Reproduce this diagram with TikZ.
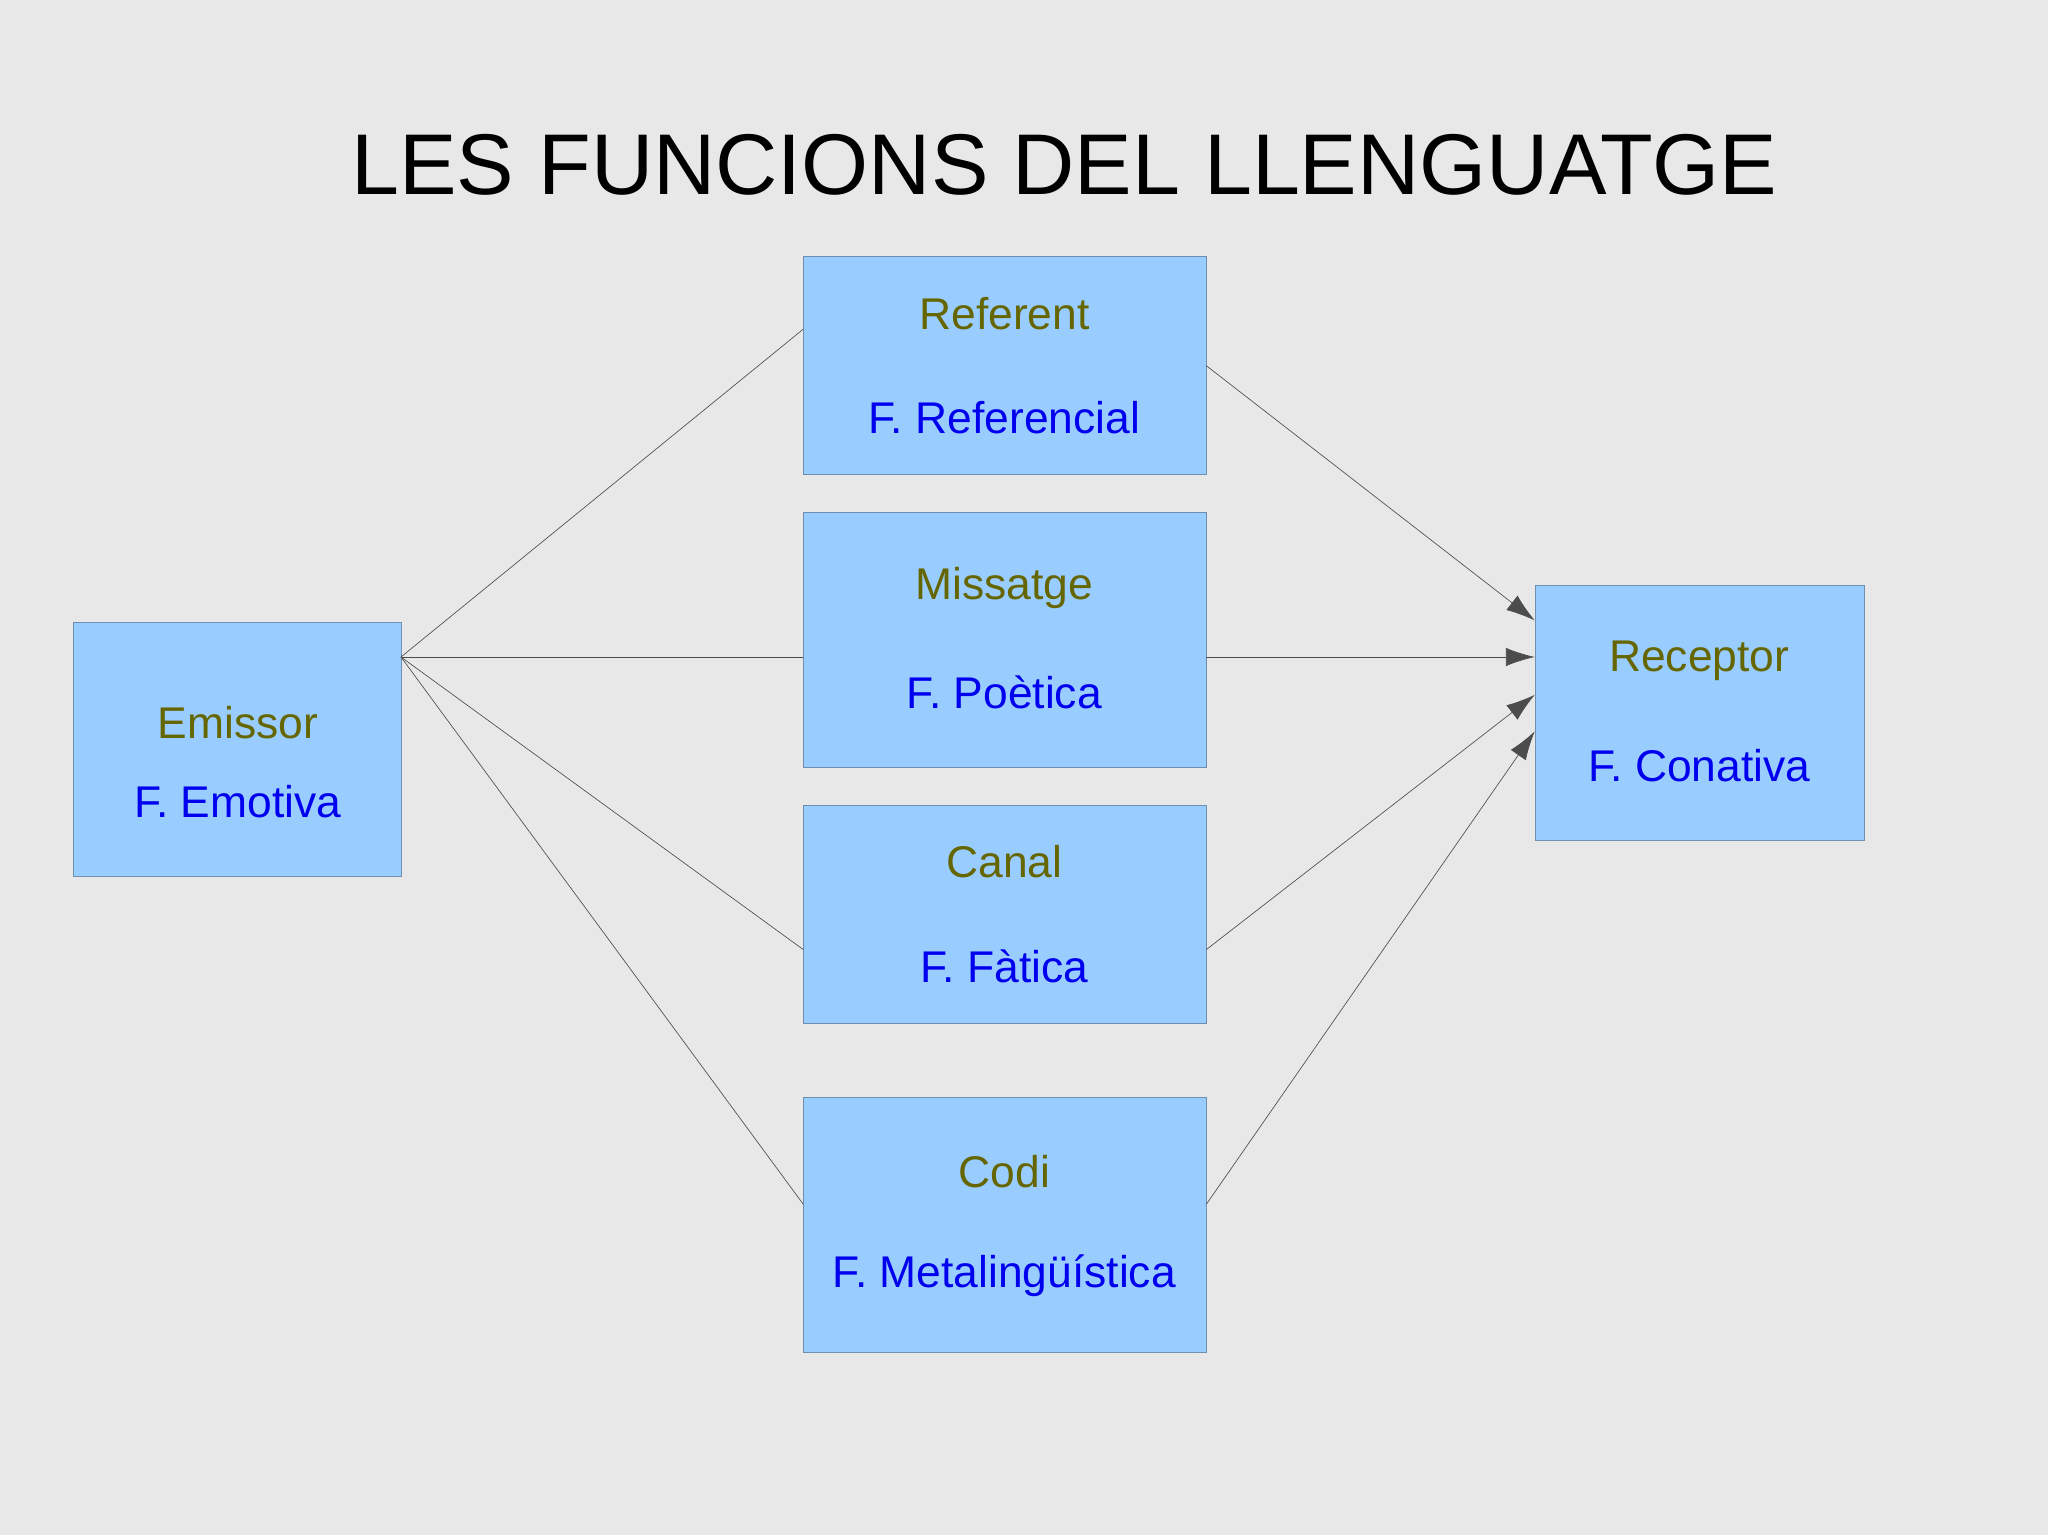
\documentclass[tikz,border=0pt]{standalone}
\usepackage{fontspec}
\setmainfont{Liberation Sans}
\usetikzlibrary{arrows.meta}
\definecolor{bg}{HTML}{E8E8E8}
\definecolor{boxfill}{HTML}{99CCFF}
\definecolor{boxline}{HTML}{6F8FB0}
\definecolor{olive}{HTML}{666600}
\definecolor{fblue}{HTML}{0000EE}
\tikzset{
 bx/.style={draw=boxline,fill=boxfill,line width=0.6pt,anchor=north west,inner sep=0pt},
 nm/.style={text=olive,font=\fontsize{34}{40}\selectfont},
 fn/.style={text=fblue,font=\fontsize{34}{40}\selectfont},
 ln/.style={draw=black!70,line width=0.5pt},
 ar/.style={ln,-{Latex[length=22pt,width=14pt]}}
}
\begin{document}
\begin{tikzpicture}[x=1pt,y=-1pt]
\fill[bg] (0,0) rectangle (1568,1175);
\useasboundingbox (0,0) rectangle (1568,1175);
\node[font=\fontsize{66}{74}\selectfont] (title) at (815,126) {LES FUNCIONS DEL LLENGUATGE};
\node[bx,minimum width=251pt,minimum height=195pt] (em) at (56,476) {};
\node[bx,minimum width=308pt,minimum height=167pt] (re) at (615,196) {};
\node[bx,minimum width=308pt,minimum height=195pt] (mi) at (615,392) {};
\node[bx,minimum width=308pt,minimum height=167pt] (ca) at (615,616) {};
\node[bx,minimum width=308pt,minimum height=195pt] (co) at (615,840) {};
\node[bx,minimum width=252pt,minimum height=195pt] (rc) at (1175,448) {};
\node[nm] (t1) at (182,553) {Emissor};
\node[fn] (t2) at (182,614) {F. Emotiva};
\node[nm] (t3) at (769,240) {Referent};
\node[fn] (t4) at (769,320) {F. Referencial};
\node[nm] (t5) at (769,450) {Missatge};
\node[fn] (t6) at (769,530) {F. Poètica};
\node[nm] (t7) at (769,660) {Canal};
\node[fn] (t8) at (769,740) {F. Fàtica};
\node[nm] (t9) at (769,897) {Codi};
\node[fn] (t10) at (769,977) {F. Metalingüística};
\node[nm] (t11) at (1301,506) {Receptor};
\node[fn] (t12) at (1301,586) {F. Conativa};
\coordinate (e) at (307,503);
\draw[ln] (e) -- (re.north west |- 0,252);
\draw[ln] (e) -- (mi.north west |- 0,503);
\draw[ln] (e) -- (ca.north west |- 0,727);
\draw[ln] (e) -- (co.north west |- 0,922);
\draw[ar] (re.north east |- 0,280) -- (rc.north west |- 0,475);
\draw[ar] (mi.north east |- 0,503) -- (rc.north west |- 0,503);
\draw[ar] (ca.north east |- 0,727) -- (rc.north west |- 0,532);
\draw[ar] (co.north east |- 0,922) -- (rc.north west |- 0,560);
\end{tikzpicture}
\end{document}
